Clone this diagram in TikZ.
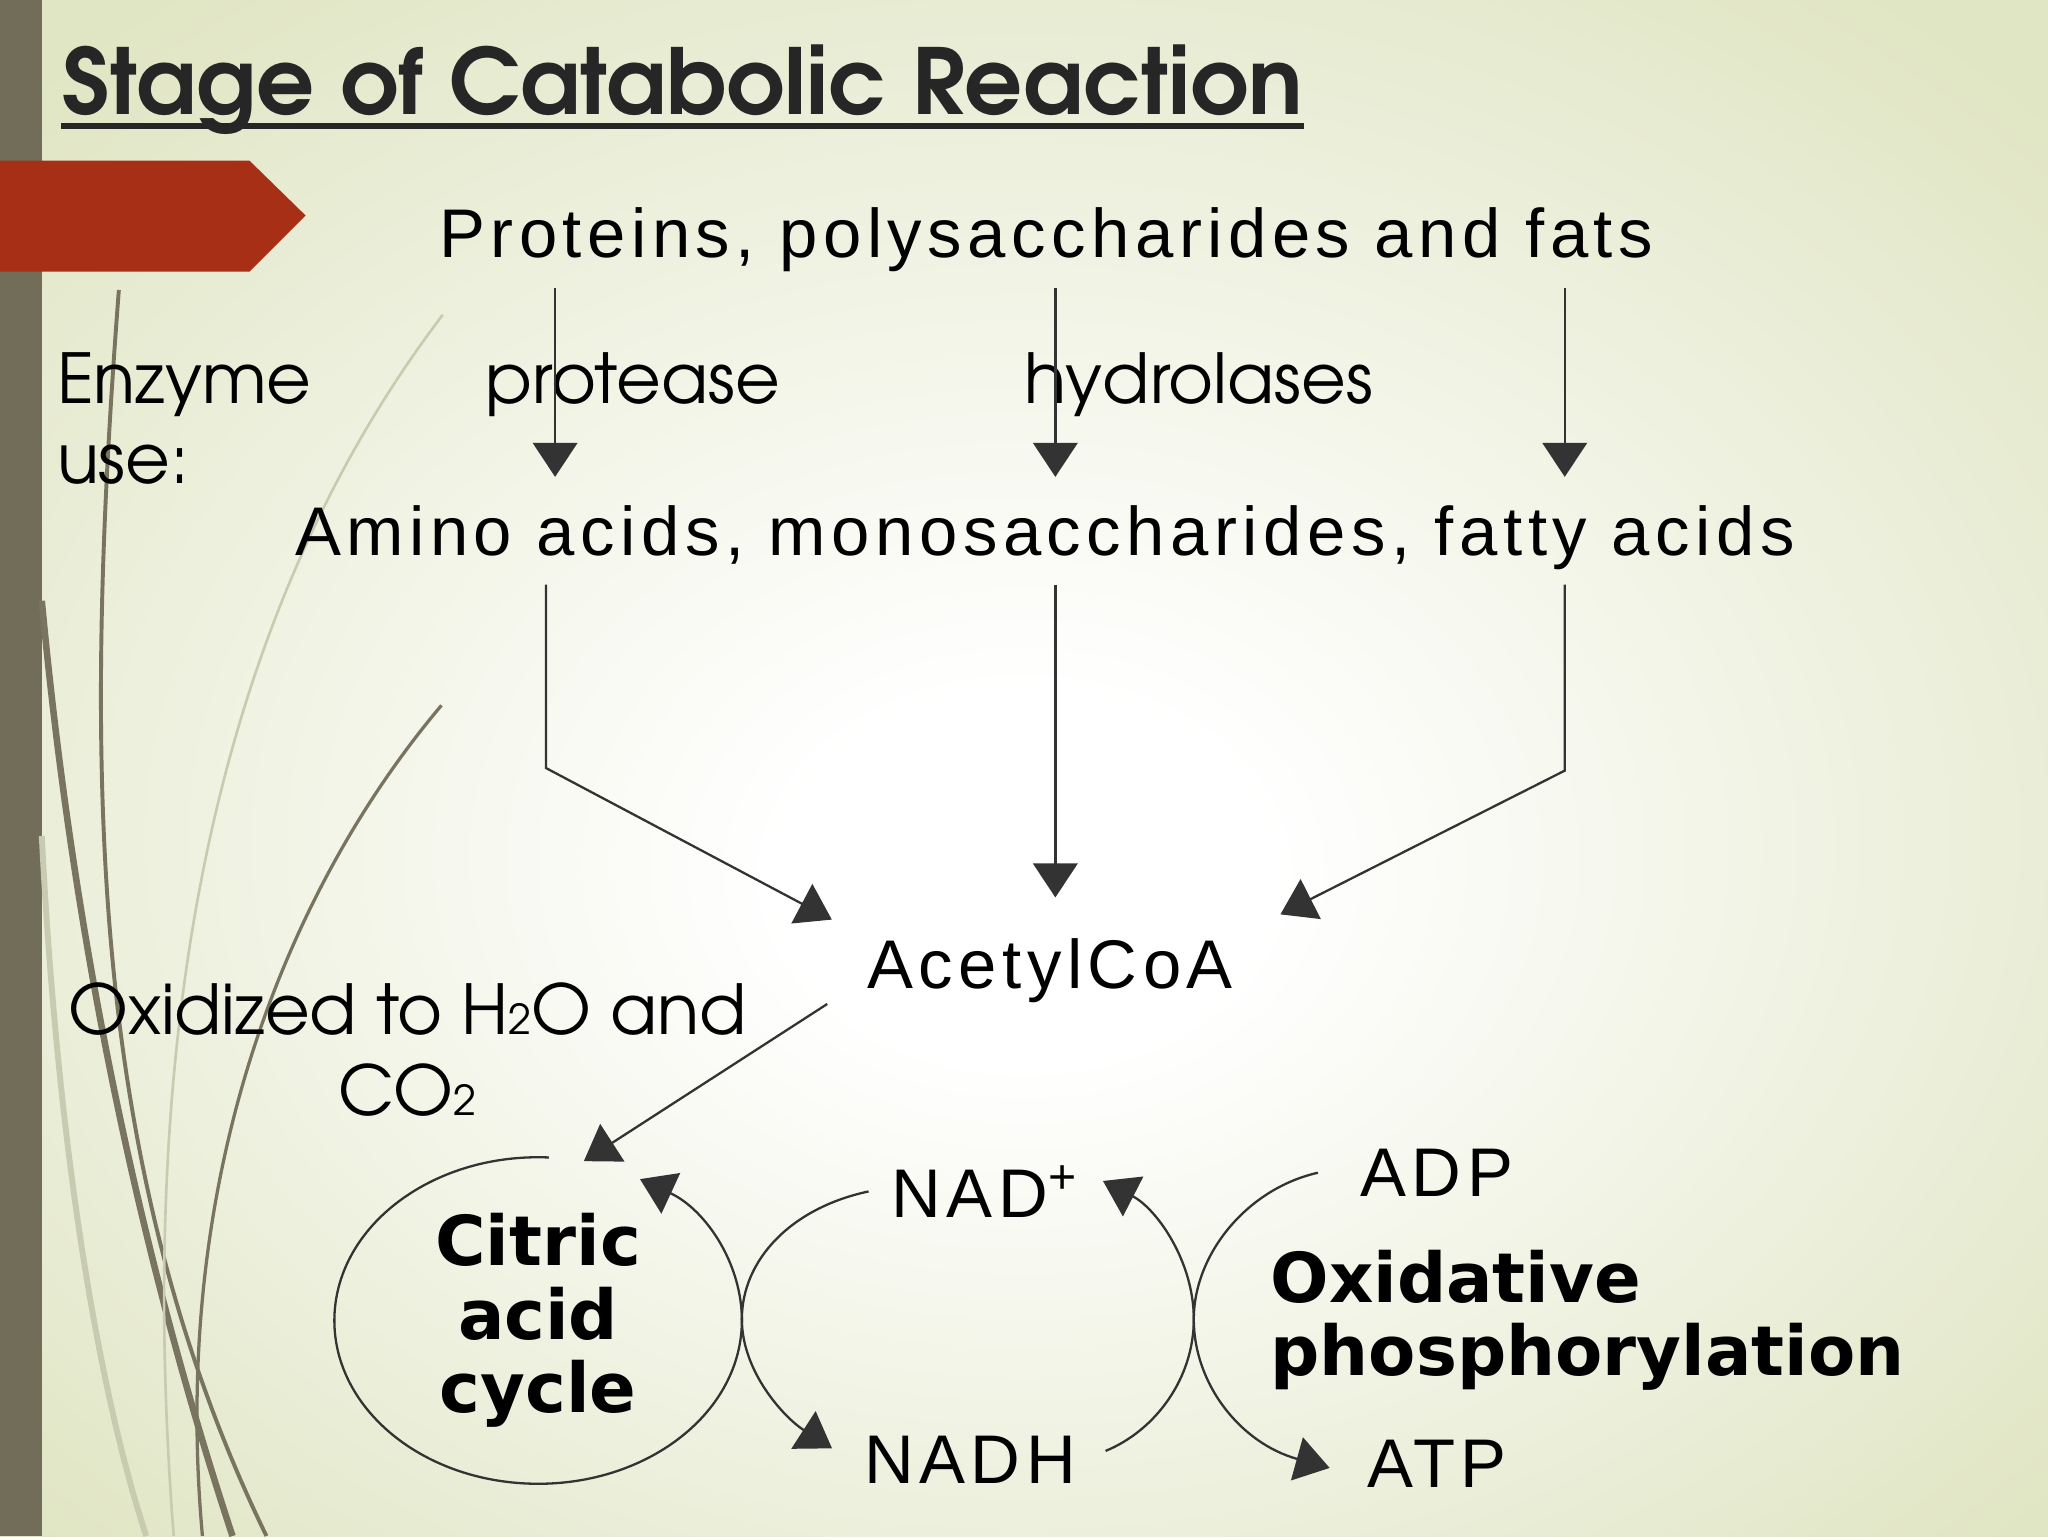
\documentclass[tikz,border=0pt]{standalone}
\usepackage{fontspec}
\usetikzlibrary{positioning, calc, arrows.meta}

\newfontfamily\gothicfont{TeX Gyre Adventor}
\newfontfamily\diagfont[LetterSpace=8]{Liberation Sans}
\newfontfamily\stagefont{DejaVu Sans}
\newcommand\lowtwo{{\fontsize{9}{9}\selectfont 2}}

\definecolor{slidebar}{HTML}{726D58}
\definecolor{slidered}{HTML}{A62F16}
\definecolor{bgedge}{HTML}{E0E5C3}
\definecolor{bgmid}{HTML}{EDF0DD}
\definecolor{grassdark}{HTML}{78745F}
\definecolor{grasslight}{HTML}{C8CBAF}
\pgfdeclareradialshading{slidebg}{\pgfpoint{0bp}{-4bp}}{color(0bp)=(white); color(6bp)=(white); color(22bp)=(bgmid); color(34bp)=(bgedge); color(50bp)=(bgedge)}

\begin{document}
\begin{tikzpicture}[x=0.1mm, y=0.1mm,
    gothic/.style={font=\gothicfont\fontsize{15}{18}\selectfont, inner sep=0},
    diag/.style={font=\diagfont\fontsize{15}{18}\selectfont, inner sep=0},
    stage/.style={font=\stagefont\bfseries\fontsize{15}{16}\selectfont, inner sep=0},
    flow/.style={draw=black!80, line width=0.5pt, -{Triangle[length=2.6mm,width=3.4mm]}}]

        % slide background
        \shade[shading=slidebg] (0,0) rectangle (1568,-1176);
        \fill[slidebar] (0,0) rectangle (32,-1176);
        \draw[grassdark, line width=0.5mm] (32,-460) .. controls (60,-760) and (120,-1000) .. (178,-1176);
        \draw[grassdark, line width=0.3mm] (91,-222) .. controls (62,-600) and (70,-900) .. (204,-1176);
        \draw[grasslight, line width=0.45mm] (32,-640) .. controls (45,-900) and (80,-1080) .. (112,-1176);
        \draw[grasslight, line width=0.2mm] (339,-241) .. controls (180,-450) and (100,-750) .. (133,-1176);
        \draw[grassdark, line width=0.25mm] (338,-540) .. controls (220,-680) and (130,-900) .. (155,-1176);
        \fill[slidered] (0,-123) -- (191,-123) -- (234,-165) -- (191,-208) -- (0,-208) -- cycle;

        \node[anchor=base west, inner sep=0, text=black!85, font=\gothicfont\bfseries\fontsize{19.8}{24}\selectfont] (title) at (47,-88) {Stage of Catabolic Reaction};
        \draw[black!85, line width=0.5mm] ([yshift=-0.85mm]title.base west) -- ([yshift=-0.85mm]title.base east);

        \node[gothic, anchor=base west] (enzyme) at (43,-309) {Enzyme};
        \node[gothic, anchor=base west] (use) at ([yshift=-6.1mm]enzyme.base west) {use:};
        \node[gothic, anchor=base west] (protease) at (371,-309) {protease};
        \node[gothic, anchor=base west] (hydro) at (784,-309) {hydrolases};
        \node[gothic, anchor=base] (oxid) at (312,-792) {Oxidized to H\lowtwo O and};
        \node[gothic, anchor=base] (co) at ([yshift=-6.2mm]oxid.base) {CO\lowtwo};

        \node[diag, anchor=base] (poly) at (801,-197) {Proteins, polysaccharides and fats};
        \node[diag, anchor=base] (amino) at (800,-425) {Amino acids, monosaccharides, fatty acids};
        \node[diag, anchor=base] (acetyl) at (804,-757) {AcetylCoA};
        \node[diag, anchor=base west] (nadp) at (682,-932) {NAD\textsuperscript{+}};
        \node[diag, anchor=base west] (nadh) at (661,-1136) {NADH};
        \node[diag, anchor=base west] (adp) at (1041,-916) {ADP};
        \node[diag, anchor=base west] (atp) at (1046,-1139) {ATP};
        \node[stage, align=center] (citric) at (412,-1011) {Citric\\acid\\cycle};
        \node[stage, align=left, anchor=west] (oxphos) at (972,-1011) {Oxidative\\phosphorylation};

        \coordinate (c1) at (425,0);
        \coordinate (c2) at (808,0);
        \coordinate (c3) at (1198,0);
        \coordinate (d1) at (418,0);
        \coordinate (bendL) at (418,-588);
        \coordinate (bendR) at (1198,-590);
        \coordinate (tcaIn) at (447,-889);

        \foreach \c in {c1,c2,c3}
            \draw[flow, shorten <=1.2mm, shorten >=2.1mm] (poly.south -| \c) -- (amino.north -| \c);

        \draw[flow, shorten <=1.1mm, shorten >=3mm] (amino.south -| d1) -- (bendL) -- (acetyl.north west);
        \draw[flow, shorten <=1.1mm, shorten >=3.1mm] (amino.south -| c2) -- (acetyl.north -| c2);
        \draw[flow, shorten <=1.1mm, shorten >=4mm] (amino.south -| c3) -- (bendR) -- (acetyl.north east);
        \draw[flow] ([xshift=-3mm]acetyl.south west) -- (tcaIn);

        \draw[flow] ([shift={(87:156 and 125)}]citric.center) arc[start angle=87, end angle=420, x radius=156, y radius=125];
        \draw[flow] ([xshift=-1.7mm]nadp.west) .. controls (605,-925) and (568,-965) .. (568,-1010) .. controls (568,-1050) and (600,-1085) .. ([shift={(-24,9)}]nadh.west);
        \draw[flow] ([shift={(22,7)}]nadh.east) .. controls (885,-1095) and (914,-1055) .. (914,-1010) .. controls (914,-965) and (885,-925) .. ([shift={(18,8)}]nadp.east);
        \draw[flow] ([xshift=-3.2mm]adp.west) .. controls (955,-910) and (914,-960) .. (914,-1010) .. controls (914,-1060) and (950,-1105) .. ([shift={(-28,-3)}]atp.west);
    \end{tikzpicture}
\end{document}
